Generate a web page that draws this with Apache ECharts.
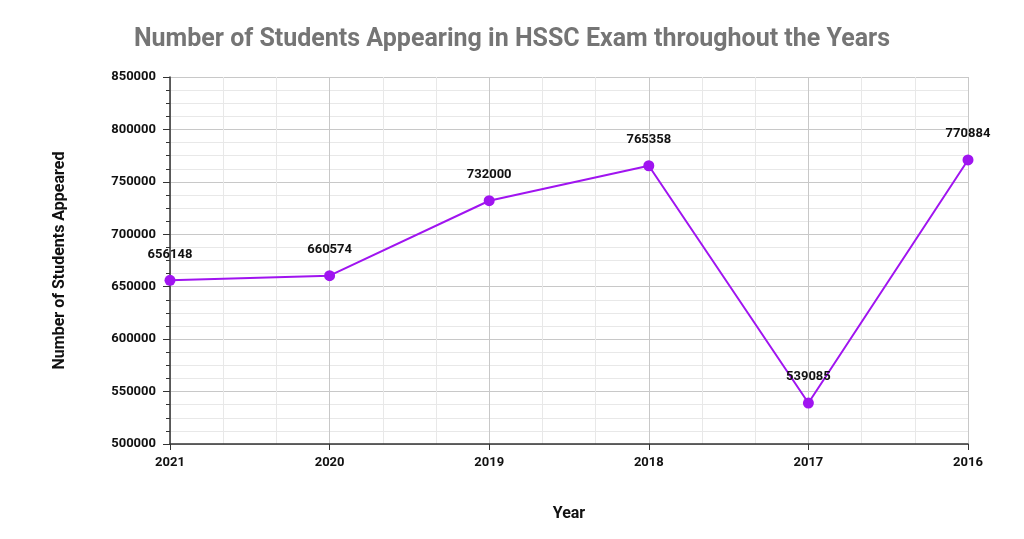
<!DOCTYPE html>
<html><head><meta charset="utf-8">
<script src="https://cdn.jsdelivr.net/npm/echarts@6/dist/echarts.min.js"></script>
<style>html,body{margin:0;padding:0;background:#fff}#c{width:1024px;height:539px}</style>
</head><body><div id="c"></div>
<script>
const categories = ['2021','2020','2019','2018','2017','2016'];
const values = [656148, 660574, 732000, 765358, 539085, 770884];
const chart = echarts.init(document.getElementById('c'));
chart.setOption({
  animation: false,
  title: { text: 'Number of Students Appearing in HSSC Exam throughout the Years', left: 'center', top: 22,
    textStyle: { fontFamily: 'Roboto, Arial', fontSize: 25, fontWeight: 'bold', color: '#757575' } },
  grid: { left: 170, right: 56, top: 77, bottom: 95 },
  xAxis: { type: 'value', min: 0, max: 5, interval: 1,
    name: 'Year', nameLocation: 'middle', nameGap: 62,
    nameTextStyle: { fontFamily: 'Roboto, Arial', fontSize: 16, fontWeight: 'bold', color: '#111' },
    axisLine: { show: true, lineStyle: { color: '#333', width: 1.5 } },
    axisTick: { show: true, length: 6, lineStyle: { color: '#333' } },
    minorTick: { show: false, splitNumber: 3 },
    axisLabel: { formatter: v => categories[v], margin: 12, fontFamily: 'Roboto, Arial', fontSize: 13, fontWeight: 'bold', color: '#111' },
    splitLine: { show: true, lineStyle: { color: '#c8c8c8' } },
    minorSplitLine: { show: true, lineStyle: { color: '#e8e8e8' } } },
  yAxis: { type: 'value', min: 500000, max: 850000, interval: 50000,
    name: 'Number of Students Appeared', nameLocation: 'middle', nameGap: 102,
    nameTextStyle: { fontFamily: 'Roboto, Arial', fontSize: 16, fontWeight: 'bold', color: '#111' },
    axisLine: { show: true, lineStyle: { color: '#333', width: 1.5 } },
    axisTick: { show: true, length: 7, lineStyle: { color: '#333' } },
    minorTick: { show: true, splitNumber: 4, length: 4, lineStyle: { color: '#333' } },
    axisLabel: { formatter: v => String(v), margin: 14, fontFamily: 'Roboto, Arial', fontSize: 13, fontWeight: 'bold', color: '#111' },
    splitLine: { show: true, lineStyle: { color: '#c8c8c8' } },
    minorSplitLine: { show: true, lineStyle: { color: '#e8e8e8' } } },
  series: [{ type: 'line', data: values.map((v, i) => [i, v]),
    symbol: 'circle', symbolSize: 11,
    lineStyle: { color: '#a014f0', width: 2 }, itemStyle: { color: '#a014f0' },
    label: { show: true, position: 'top', distance: 14, fontFamily: 'Roboto, Arial', fontSize: 13, fontWeight: 'bold', color: '#111' } }]
});
</script></body></html>
